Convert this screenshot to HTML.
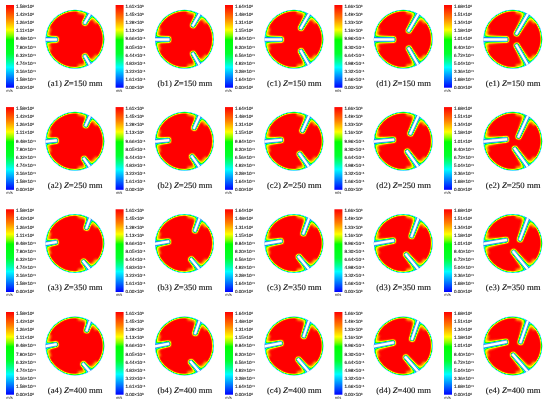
<!DOCTYPE html>
<html><head><meta charset="utf-8"><title>Velocity contours</title>
<style>
html,body{margin:0;padding:0;background:#fff;}
svg{display:block;text-rendering:geometricPrecision}
.t{font-family:"Liberation Sans",sans-serif;font-size:4.6px;fill:#262626;stroke:#262626;stroke-width:0.12px}
.u{font-family:"Liberation Sans",sans-serif;font-size:4px;fill:#222}
.c{font-family:"Liberation Serif",serif;font-size:8.4px;fill:#111;stroke:#111;stroke-width:0.12}
</style></head><body>
<svg width="550" height="403" viewBox="0 0 550 403">
<defs>
<linearGradient id="cb" x1="0" y1="0" x2="0" y2="1">
<stop offset="0" stop-color="#ff0000"/>
<stop offset="0.166" stop-color="#ff8000"/>
<stop offset="0.30" stop-color="#ffff00"/>
<stop offset="0.37" stop-color="#80ff00"/>
<stop offset="0.42" stop-color="#00ff00"/>
<stop offset="0.59" stop-color="#00ff30"/>
<stop offset="0.686" stop-color="#00ffa0"/>
<stop offset="0.753" stop-color="#00ffff"/>
<stop offset="0.875" stop-color="#0080ff"/>
<stop offset="1" stop-color="#0000ff"/>
</linearGradient>
<filter id="tb" x="-5%" y="-5%" width="110%" height="110%"><feGaussianBlur stdDeviation="0.22"/></filter>
<filter id="cfd" x="0" y="0" width="1" height="1" color-interpolation-filters="sRGB">
<feGaussianBlur in="SourceGraphic" stdDeviation="0.8" result="b1"/>
<feColorMatrix in="b1" type="matrix" values="1 0 0 0 0 1 0 0 0 0 1 0 0 0 0 0 0 0 0 1" result="c1"/>
<feGaussianBlur in="SourceGraphic" stdDeviation="1.3" result="b2"/>
<feColorMatrix in="b2" type="matrix" values="0 1 0 0 0 0 1 0 0 0 0 1 0 0 0 0 0 0 0 1" result="c2"/>
<feComposite in="c1" in2="c2" operator="arithmetic" k1="1" k2="0" k3="0" k4="0"/>
<feComponentTransfer>
<feFuncR type="table" tableValues="0 0 0 0 0 0 0 0 0 0 0 0 0 0 0 0 0 0 0 0 0 0 0 0 0 0 0 0 0 0 0 0 0 0 0 0 0 0 0 0 0 0 0 0 0 0 0 0 0 0 0 0 0 0 0 0 0 0 0 0 0 0 0 0 0 0 0 0 0 0 0 0 0 0 0 0 0 0 0 0 0 0 0 0 0 0 0 0 0 0 0 0.006 0.06 0.114 0.167 0.221 0.275 0.328 0.382 0.435 0.489 0.543 0.593 0.644 0.694 0.744 0.795 0.845 0.895 0.946 0.996 1 1 1 1 1 1 1 1 1 1 1 1 1 1 1 1 1 1"/>
<feFuncG type="table" tableValues="0.667 0.667 0.667 0.667 0.667 0.667 0.667 0.667 0.667 0.667 0.667 0.667 0.667 0.667 0.667 0.667 0.667 0.667 0.667 0.667 0.667 0.667 0.667 0.667 0.667 0.667 0.667 0.667 0.667 0.667 0.667 0.667 0.667 0.667 0.667 0.667 0.667 0.667 0.667 0.667 0.667 0.667 0.667 0.667 0.667 0.667 0.667 0.667 0.667 0.667 0.667 0.667 0.667 0.667 0.667 0.667 0.667 0.667 0.667 0.667 0.667 0.667 0.667 0.667 0.667 0.701 0.736 0.77 0.805 0.839 0.865 0.889 0.914 0.938 0.963 0.987 1 1 1 1 1 1 1 1 1 1 1 1 1 1 1 1 1 1 1 1 1 1 1 1 1 1 1 1 1 1 1 1 1 1 1 0.95 0.896 0.842 0.788 0.733 0.679 0.625 0.571 0.512 0.451 0.39 0.328 0.267 0.206 0.147 0.098 0.049 0"/>
<feFuncB type="table" tableValues="1 1 1 1 1 1 1 1 1 1 1 1 1 1 1 1 1 1 1 1 1 1 1 1 1 1 1 1 1 1 1 1 1 1 1 1 1 1 1 1 1 1 1 1 1 1 1 1 1 1 1 1 1 1 1 1 1 1 1 1 1 1 1 1 1 1 1 1 1 1 1 1 1 1 1 1 0.967 0.898 0.829 0.76 0.691 0.622 0.553 0.484 0.422 0.36 0.299 0.238 0.176 0.115 0.054 0 0 0 0 0 0 0 0 0 0 0 0 0 0 0 0 0 0 0 0 0 0 0 0 0 0 0 0 0 0 0 0 0 0 0 0 0 0"/>
<feFuncA type="linear" slope="0" intercept="1"/>
</feComponentTransfer>
<feGaussianBlur stdDeviation="0.3"/>
</filter>

<clipPath id="k00"><circle cx="74.95" cy="39.15" r="29.5"/></clipPath>
<clipPath id="k01"><circle cx="184.5" cy="39.15" r="29.5"/></clipPath>
<clipPath id="k02"><circle cx="294.0" cy="39.15" r="29.5"/></clipPath>
<clipPath id="k03"><circle cx="403.3" cy="39.15" r="29.5"/></clipPath>
<clipPath id="k04"><circle cx="512.85" cy="39.15" r="29.5"/></clipPath>
<clipPath id="k10"><circle cx="74.95" cy="141.15" r="29.5"/></clipPath>
<clipPath id="k11"><circle cx="184.5" cy="141.15" r="29.5"/></clipPath>
<clipPath id="k12"><circle cx="294.0" cy="141.15" r="29.5"/></clipPath>
<clipPath id="k13"><circle cx="403.3" cy="141.15" r="29.5"/></clipPath>
<clipPath id="k14"><circle cx="512.85" cy="141.15" r="29.5"/></clipPath>
<clipPath id="k20"><circle cx="74.95" cy="243.40" r="29.5"/></clipPath>
<clipPath id="k21"><circle cx="184.5" cy="243.40" r="29.5"/></clipPath>
<clipPath id="k22"><circle cx="294.0" cy="243.40" r="29.5"/></clipPath>
<clipPath id="k23"><circle cx="403.3" cy="243.40" r="29.5"/></clipPath>
<clipPath id="k24"><circle cx="512.85" cy="243.40" r="29.5"/></clipPath>
<clipPath id="k30"><circle cx="74.95" cy="345.90" r="29.5"/></clipPath>
<clipPath id="k31"><circle cx="184.5" cy="345.90" r="29.5"/></clipPath>
<clipPath id="k32"><circle cx="294.0" cy="345.90" r="29.5"/></clipPath>
<clipPath id="k33"><circle cx="403.3" cy="345.90" r="29.5"/></clipPath>
<clipPath id="k34"><circle cx="512.85" cy="345.90" r="29.5"/></clipPath>
</defs>
<rect width="550" height="403" fill="#fff"/>
<g>
<rect x="6.0" y="5.0" width="8" height="82.7" fill="url(#cb)"/>
<g filter="url(#tb)">
<text class="t" x="16.0" y="8.05" textLength="18.0" lengthAdjust="spacing">1.58×10<tspan dy="-1" font-size="3px">0</tspan></text>
<text class="t" x="16.0" y="16.15" textLength="18.0" lengthAdjust="spacing">1.42×10<tspan dy="-1" font-size="3px">0</tspan></text>
<text class="t" x="16.0" y="24.25" textLength="18.0" lengthAdjust="spacing">1.26×10<tspan dy="-1" font-size="3px">0</tspan></text>
<text class="t" x="16.0" y="32.35" textLength="18.0" lengthAdjust="spacing">1.11×10<tspan dy="-1" font-size="3px">0</tspan></text>
<text class="t" x="16.0" y="40.45" textLength="19.9" lengthAdjust="spacing">9.48×10<tspan dy="-1" font-size="3px">−1</tspan></text>
<text class="t" x="16.0" y="48.55" textLength="19.9" lengthAdjust="spacing">7.90×10<tspan dy="-1" font-size="3px">−1</tspan></text>
<text class="t" x="16.0" y="56.65" textLength="19.9" lengthAdjust="spacing">6.32×10<tspan dy="-1" font-size="3px">−1</tspan></text>
<text class="t" x="16.0" y="64.75" textLength="19.9" lengthAdjust="spacing">4.74×10<tspan dy="-1" font-size="3px">−1</tspan></text>
<text class="t" x="16.0" y="72.85" textLength="19.9" lengthAdjust="spacing">3.16×10<tspan dy="-1" font-size="3px">−1</tspan></text>
<text class="t" x="16.0" y="80.95" textLength="19.9" lengthAdjust="spacing">1.58×10<tspan dy="-1" font-size="3px">−1</tspan></text>
<text class="t" x="16.0" y="89.05" textLength="18.0" lengthAdjust="spacing">0.00×10<tspan dy="-1" font-size="3px">0</tspan></text>
<text class="u" x="6.3" y="92.10">m/s</text>
</g>
<g clip-path="url(#k00)"><g filter="url(#cfd)"><rect x="40.95" y="5.15" width="68" height="68" fill="#0f0"/><circle cx="74.95" cy="39.15" r="29.5" fill="#ff0"/><path d="M50.10 50.21A27.2 27.2 0 0 1 50.10 28.09M77.79 12.10A27.2 27.2 0 0 1 96.96 23.16M96.96 55.14A27.2 27.2 0 0 1 77.79 66.20" fill="none" stroke="#f00" stroke-opacity="0.1" stroke-width="3.0"/><path d="M43.75 43.85L46.25 43.85L57.65 41.45L57.65 37.65L46.25 35.25L43.75 35.25ZM87.41 10.20L86.16 12.36L82.53 23.43L85.57 25.18L93.34 16.51L94.59 14.35ZM94.59 64.75L93.34 62.59L85.57 53.92L82.53 55.67L86.16 66.74L87.41 68.90Z" fill="#f00" fill-opacity="0.12"/><path d="M39.75 41.25L57.35 41.25L57.35 37.85L39.75 37.85ZM91.66 8.03L82.86 23.27L85.54 24.82L94.34 9.58ZM94.34 69.52L85.54 54.28L82.86 55.83L91.66 71.07Z" fill="#f00"/></g><path d="M39.75 41.20L57.40 41.20L57.40 37.90L39.75 37.90ZM91.70 8.06L82.88 23.34L85.47 24.84L94.30 9.56ZM94.30 69.54L85.47 54.26L82.88 55.76L91.70 71.04Z" fill="#fff" stroke="#0f62cc" stroke-width="0.5"/></g>
<text class="c" x="75.2" y="85.90" text-anchor="middle" textLength="54.7" lengthAdjust="spacingAndGlyphs">(a1) <tspan font-style="italic">Z</tspan>=150 mm</text>
</g>
<g>
<rect x="115.6" y="5.0" width="8" height="82.7" fill="url(#cb)"/>
<g filter="url(#tb)">
<text class="t" x="125.6" y="8.05" textLength="18.0" lengthAdjust="spacing">1.61×10<tspan dy="-1" font-size="3px">0</tspan></text>
<text class="t" x="125.6" y="16.15" textLength="18.0" lengthAdjust="spacing">1.45×10<tspan dy="-1" font-size="3px">0</tspan></text>
<text class="t" x="125.6" y="24.25" textLength="18.0" lengthAdjust="spacing">1.29×10<tspan dy="-1" font-size="3px">0</tspan></text>
<text class="t" x="125.6" y="32.35" textLength="18.0" lengthAdjust="spacing">1.13×10<tspan dy="-1" font-size="3px">0</tspan></text>
<text class="t" x="125.6" y="40.45" textLength="19.9" lengthAdjust="spacing">9.66×10<tspan dy="-1" font-size="3px">−1</tspan></text>
<text class="t" x="125.6" y="48.55" textLength="19.9" lengthAdjust="spacing">8.05×10<tspan dy="-1" font-size="3px">−1</tspan></text>
<text class="t" x="125.6" y="56.65" textLength="19.9" lengthAdjust="spacing">6.44×10<tspan dy="-1" font-size="3px">−1</tspan></text>
<text class="t" x="125.6" y="64.75" textLength="19.9" lengthAdjust="spacing">4.83×10<tspan dy="-1" font-size="3px">−1</tspan></text>
<text class="t" x="125.6" y="72.85" textLength="19.9" lengthAdjust="spacing">3.22×10<tspan dy="-1" font-size="3px">−1</tspan></text>
<text class="t" x="125.6" y="80.95" textLength="19.9" lengthAdjust="spacing">1.61×10<tspan dy="-1" font-size="3px">−1</tspan></text>
<text class="t" x="125.6" y="89.05" textLength="18.0" lengthAdjust="spacing">0.00×10<tspan dy="-1" font-size="3px">0</tspan></text>
<text class="u" x="115.9" y="92.10">m/s</text>
</g>
<g clip-path="url(#k01)"><g filter="url(#cfd)"><rect x="150.50" y="5.15" width="68" height="68" fill="#0f0"/><circle cx="184.5" cy="39.15" r="29.5" fill="#ff0"/><path d="M159.65 50.21A27.2 27.2 0 0 1 159.65 28.09M187.34 12.10A27.2 27.2 0 0 1 206.51 23.16M206.51 55.14A27.2 27.2 0 0 1 187.34 66.20" fill="none" stroke="#f00" stroke-opacity="0.1" stroke-width="3.0"/><path d="M153.30 44.10L155.80 44.10L170.10 41.45L170.10 37.65L155.80 35.00L153.30 35.00ZM196.74 10.07L195.49 12.24L190.63 25.94L193.67 27.69L203.11 16.64L204.36 14.47ZM204.36 64.63L203.11 62.46L193.67 51.41L190.63 53.16L195.49 66.86L196.74 69.03Z" fill="#f00" fill-opacity="0.12"/><path d="M149.30 41.25L169.80 41.25L169.80 37.85L149.30 37.85ZM201.21 8.03L190.96 25.78L193.64 27.33L203.89 9.58ZM203.89 69.52L193.64 51.77L190.96 53.32L201.21 71.07Z" fill="#f00"/></g><path d="M149.30 41.20L169.85 41.20L169.85 37.90L149.30 37.90ZM201.25 8.06L190.98 25.85L193.57 27.35L203.85 9.56ZM203.85 69.54L193.57 51.75L190.98 53.25L201.25 71.04Z" fill="#fff" stroke="#0f62cc" stroke-width="0.5"/></g>
<text class="c" x="184.8" y="85.90" text-anchor="middle" textLength="54.7" lengthAdjust="spacingAndGlyphs">(b1) <tspan font-style="italic">Z</tspan>=150 mm</text>
</g>
<g>
<rect x="225.0" y="5.0" width="8" height="82.7" fill="url(#cb)"/>
<g filter="url(#tb)">
<text class="t" x="235.0" y="8.05" textLength="18.0" lengthAdjust="spacing">1.64×10<tspan dy="-1" font-size="3px">0</tspan></text>
<text class="t" x="235.0" y="16.15" textLength="18.0" lengthAdjust="spacing">1.48×10<tspan dy="-1" font-size="3px">0</tspan></text>
<text class="t" x="235.0" y="24.25" textLength="18.0" lengthAdjust="spacing">1.31×10<tspan dy="-1" font-size="3px">0</tspan></text>
<text class="t" x="235.0" y="32.35" textLength="18.0" lengthAdjust="spacing">1.15×10<tspan dy="-1" font-size="3px">0</tspan></text>
<text class="t" x="235.0" y="40.45" textLength="19.9" lengthAdjust="spacing">9.84×10<tspan dy="-1" font-size="3px">−1</tspan></text>
<text class="t" x="235.0" y="48.55" textLength="19.9" lengthAdjust="spacing">8.20×10<tspan dy="-1" font-size="3px">−1</tspan></text>
<text class="t" x="235.0" y="56.65" textLength="19.9" lengthAdjust="spacing">6.56×10<tspan dy="-1" font-size="3px">−1</tspan></text>
<text class="t" x="235.0" y="64.75" textLength="19.9" lengthAdjust="spacing">4.92×10<tspan dy="-1" font-size="3px">−1</tspan></text>
<text class="t" x="235.0" y="72.85" textLength="19.9" lengthAdjust="spacing">3.28×10<tspan dy="-1" font-size="3px">−1</tspan></text>
<text class="t" x="235.0" y="80.95" textLength="19.9" lengthAdjust="spacing">1.64×10<tspan dy="-1" font-size="3px">−1</tspan></text>
<text class="t" x="235.0" y="89.05" textLength="18.0" lengthAdjust="spacing">0.00×10<tspan dy="-1" font-size="3px">0</tspan></text>
<text class="u" x="225.3" y="92.10">m/s</text>
</g>
<g clip-path="url(#k02)"><g filter="url(#cfd)"><rect x="260.00" y="5.15" width="68" height="68" fill="#0f0"/><circle cx="294.0" cy="39.15" r="29.5" fill="#ff0"/><path d="M269.15 50.21A27.2 27.2 0 0 1 269.15 28.09M296.84 12.10A27.2 27.2 0 0 1 316.01 23.16M316.01 55.14A27.2 27.2 0 0 1 296.84 66.20" fill="none" stroke="#f00" stroke-opacity="0.1" stroke-width="3.0"/><path d="M262.80 44.35L265.30 44.35L282.70 41.45L282.70 37.65L265.30 34.75L262.80 34.75ZM306.02 9.95L304.77 12.11L298.58 28.63L301.62 30.38L312.83 16.76L314.08 14.60ZM314.08 64.50L312.83 62.34L301.62 48.72L298.58 50.47L304.77 66.99L306.02 69.15Z" fill="#f00" fill-opacity="0.12"/><path d="M258.80 41.25L282.40 41.25L282.40 37.85L258.80 37.85ZM310.71 8.03L298.91 28.47L301.59 30.02L313.39 9.58ZM313.39 69.52L301.59 49.08L298.91 50.63L310.71 71.07Z" fill="#f00"/></g><path d="M258.80 41.20L282.45 41.20L282.45 37.90L258.80 37.90ZM310.75 8.06L298.93 28.54L301.52 30.04L313.35 9.56ZM313.35 69.54L301.52 49.06L298.93 50.56L310.75 71.04Z" fill="#fff" stroke="#0f62cc" stroke-width="0.5"/></g>
<text class="c" x="294.3" y="85.90" text-anchor="middle" textLength="54.7" lengthAdjust="spacingAndGlyphs">(c1) <tspan font-style="italic">Z</tspan>=150 mm</text>
</g>
<g>
<rect x="334.4" y="5.0" width="8" height="82.7" fill="url(#cb)"/>
<g filter="url(#tb)">
<text class="t" x="344.4" y="8.05" textLength="18.0" lengthAdjust="spacing">1.66×10<tspan dy="-1" font-size="3px">0</tspan></text>
<text class="t" x="344.4" y="16.15" textLength="18.0" lengthAdjust="spacing">1.49×10<tspan dy="-1" font-size="3px">0</tspan></text>
<text class="t" x="344.4" y="24.25" textLength="18.0" lengthAdjust="spacing">1.33×10<tspan dy="-1" font-size="3px">0</tspan></text>
<text class="t" x="344.4" y="32.35" textLength="18.0" lengthAdjust="spacing">1.16×10<tspan dy="-1" font-size="3px">0</tspan></text>
<text class="t" x="344.4" y="40.45" textLength="19.9" lengthAdjust="spacing">9.96×10<tspan dy="-1" font-size="3px">−1</tspan></text>
<text class="t" x="344.4" y="48.55" textLength="19.9" lengthAdjust="spacing">8.30×10<tspan dy="-1" font-size="3px">−1</tspan></text>
<text class="t" x="344.4" y="56.65" textLength="19.9" lengthAdjust="spacing">6.64×10<tspan dy="-1" font-size="3px">−1</tspan></text>
<text class="t" x="344.4" y="64.75" textLength="19.9" lengthAdjust="spacing">4.98×10<tspan dy="-1" font-size="3px">−1</tspan></text>
<text class="t" x="344.4" y="72.85" textLength="19.9" lengthAdjust="spacing">3.32×10<tspan dy="-1" font-size="3px">−1</tspan></text>
<text class="t" x="344.4" y="80.95" textLength="19.9" lengthAdjust="spacing">1.66×10<tspan dy="-1" font-size="3px">−1</tspan></text>
<text class="t" x="344.4" y="89.05" textLength="18.0" lengthAdjust="spacing">0.00×10<tspan dy="-1" font-size="3px">0</tspan></text>
<text class="u" x="334.7" y="92.10">m/s</text>
</g>
<g clip-path="url(#k03)"><g filter="url(#cfd)"><rect x="369.30" y="5.15" width="68" height="68" fill="#0f0"/><circle cx="403.3" cy="39.15" r="29.5" fill="#ff0"/><path d="M378.45 50.21A27.2 27.2 0 0 1 378.45 28.09M406.14 12.10A27.2 27.2 0 0 1 425.31 23.16M425.31 55.14A27.2 27.2 0 0 1 406.14 66.20" fill="none" stroke="#f00" stroke-opacity="0.1" stroke-width="3.0"/><path d="M372.10 44.60L374.60 44.60L395.00 41.45L395.00 37.65L374.60 34.50L372.10 34.50ZM415.11 9.82L413.86 11.99L406.38 31.23L409.42 32.98L422.34 16.89L423.59 14.72ZM423.59 64.38L422.34 62.21L409.42 46.12L406.38 47.87L413.86 67.11L415.11 69.28Z" fill="#f00" fill-opacity="0.12"/><path d="M368.10 41.25L394.70 41.25L394.70 37.85L368.10 37.85ZM420.01 8.03L406.71 31.07L409.39 32.62L422.69 9.58ZM422.69 69.52L409.39 46.48L406.71 48.03L420.01 71.07Z" fill="#f00"/></g><path d="M368.10 41.20L394.75 41.20L394.75 37.90L368.10 37.90ZM420.05 8.06L406.73 31.14L409.32 32.64L422.65 9.56ZM422.65 69.54L409.32 46.46L406.73 47.96L420.05 71.04Z" fill="#fff" stroke="#0f62cc" stroke-width="0.5"/></g>
<text class="c" x="403.6" y="85.90" text-anchor="middle" textLength="54.7" lengthAdjust="spacingAndGlyphs">(d1) <tspan font-style="italic">Z</tspan>=150 mm</text>
</g>
<g>
<rect x="444.0" y="5.0" width="8" height="82.7" fill="url(#cb)"/>
<g filter="url(#tb)">
<text class="t" x="454.0" y="8.05" textLength="18.0" lengthAdjust="spacing">1.68×10<tspan dy="-1" font-size="3px">0</tspan></text>
<text class="t" x="454.0" y="16.15" textLength="18.0" lengthAdjust="spacing">1.51×10<tspan dy="-1" font-size="3px">0</tspan></text>
<text class="t" x="454.0" y="24.25" textLength="18.0" lengthAdjust="spacing">1.34×10<tspan dy="-1" font-size="3px">0</tspan></text>
<text class="t" x="454.0" y="32.35" textLength="18.0" lengthAdjust="spacing">1.18×10<tspan dy="-1" font-size="3px">0</tspan></text>
<text class="t" x="454.0" y="40.45" textLength="18.0" lengthAdjust="spacing">1.01×10<tspan dy="-1" font-size="3px">0</tspan></text>
<text class="t" x="454.0" y="48.55" textLength="19.9" lengthAdjust="spacing">8.40×10<tspan dy="-1" font-size="3px">−1</tspan></text>
<text class="t" x="454.0" y="56.65" textLength="19.9" lengthAdjust="spacing">6.72×10<tspan dy="-1" font-size="3px">−1</tspan></text>
<text class="t" x="454.0" y="64.75" textLength="19.9" lengthAdjust="spacing">5.04×10<tspan dy="-1" font-size="3px">−1</tspan></text>
<text class="t" x="454.0" y="72.85" textLength="19.9" lengthAdjust="spacing">3.36×10<tspan dy="-1" font-size="3px">−1</tspan></text>
<text class="t" x="454.0" y="80.95" textLength="19.9" lengthAdjust="spacing">1.68×10<tspan dy="-1" font-size="3px">−1</tspan></text>
<text class="t" x="454.0" y="89.05" textLength="18.0" lengthAdjust="spacing">0.00×10<tspan dy="-1" font-size="3px">0</tspan></text>
<text class="u" x="444.3" y="92.10">m/s</text>
</g>
<g clip-path="url(#k04)"><g filter="url(#cfd)"><rect x="478.85" y="5.15" width="68" height="68" fill="#0f0"/><circle cx="512.85" cy="39.15" r="29.5" fill="#ff0"/><path d="M488.00 50.21A27.2 27.2 0 0 1 488.00 28.09M515.69 12.10A27.2 27.2 0 0 1 534.86 23.16M534.86 55.14A27.2 27.2 0 0 1 515.69 66.20" fill="none" stroke="#f00" stroke-opacity="0.1" stroke-width="3.0"/><path d="M481.65 44.85L484.15 44.85L507.95 41.45L507.95 37.65L484.15 34.25L481.65 34.25ZM524.44 9.70L523.19 11.86L514.23 34.17L517.27 35.92L532.11 17.01L533.36 14.85ZM533.36 64.25L532.11 62.09L517.27 43.18L514.23 44.93L523.19 67.24L524.44 69.40Z" fill="#f00" fill-opacity="0.12"/><path d="M477.65 41.25L507.65 41.25L507.65 37.85L477.65 37.85ZM529.56 8.03L514.56 34.01L517.24 35.56L532.24 9.58ZM532.24 69.52L517.24 43.54L514.56 45.09L529.56 71.07Z" fill="#f00"/></g><path d="M477.65 41.20L507.70 41.20L507.70 37.90L477.65 37.90ZM529.60 8.06L514.58 34.08L517.17 35.58L532.20 9.56ZM532.20 69.54L517.17 43.52L514.58 45.02L529.60 71.04Z" fill="#fff" stroke="#0f62cc" stroke-width="0.5"/></g>
<text class="c" x="513.1" y="85.90" text-anchor="middle" textLength="54.7" lengthAdjust="spacingAndGlyphs">(e1) <tspan font-style="italic">Z</tspan>=150 mm</text>
</g>
<g>
<rect x="6.0" y="107.1" width="8" height="82.7" fill="url(#cb)"/>
<g filter="url(#tb)">
<text class="t" x="16.0" y="110.15" textLength="18.0" lengthAdjust="spacing">1.58×10<tspan dy="-1" font-size="3px">0</tspan></text>
<text class="t" x="16.0" y="118.25" textLength="18.0" lengthAdjust="spacing">1.42×10<tspan dy="-1" font-size="3px">0</tspan></text>
<text class="t" x="16.0" y="126.35" textLength="18.0" lengthAdjust="spacing">1.26×10<tspan dy="-1" font-size="3px">0</tspan></text>
<text class="t" x="16.0" y="134.45" textLength="18.0" lengthAdjust="spacing">1.11×10<tspan dy="-1" font-size="3px">0</tspan></text>
<text class="t" x="16.0" y="142.55" textLength="19.9" lengthAdjust="spacing">9.48×10<tspan dy="-1" font-size="3px">−1</tspan></text>
<text class="t" x="16.0" y="150.65" textLength="19.9" lengthAdjust="spacing">7.90×10<tspan dy="-1" font-size="3px">−1</tspan></text>
<text class="t" x="16.0" y="158.75" textLength="19.9" lengthAdjust="spacing">6.32×10<tspan dy="-1" font-size="3px">−1</tspan></text>
<text class="t" x="16.0" y="166.85" textLength="19.9" lengthAdjust="spacing">4.74×10<tspan dy="-1" font-size="3px">−1</tspan></text>
<text class="t" x="16.0" y="174.95" textLength="19.9" lengthAdjust="spacing">3.16×10<tspan dy="-1" font-size="3px">−1</tspan></text>
<text class="t" x="16.0" y="183.05" textLength="19.9" lengthAdjust="spacing">1.58×10<tspan dy="-1" font-size="3px">−1</tspan></text>
<text class="t" x="16.0" y="191.15" textLength="18.0" lengthAdjust="spacing">0.00×10<tspan dy="-1" font-size="3px">0</tspan></text>
<text class="u" x="6.3" y="194.20">m/s</text>
</g>
<g clip-path="url(#k10)"><g filter="url(#cfd)"><rect x="40.95" y="107.15" width="68" height="68" fill="#0f0"/><circle cx="74.95" cy="141.15" r="29.5" fill="#ff0"/><path d="M50.10 152.21A27.2 27.2 0 0 1 50.10 130.09M77.79 114.10A27.2 27.2 0 0 1 96.96 125.16M96.96 157.14A27.2 27.2 0 0 1 77.79 168.20" fill="none" stroke="#f00" stroke-opacity="0.1" stroke-width="3.0"/><path d="M44.17 146.02L46.66 145.78L57.78 142.30L57.41 138.52L45.84 137.22L43.35 137.46ZM87.05 112.46L86.02 114.74L83.47 126.11L86.66 127.56L93.57 118.18L94.61 115.90ZM94.54 166.32L93.09 164.28L84.51 156.39L81.66 158.43L86.33 169.10L87.78 171.14Z" fill="#f00" fill-opacity="0.12"/><path d="M39.94 143.82L57.46 142.13L57.13 138.75L39.61 140.43ZM91.08 109.90L83.78 125.92L86.60 127.20L93.90 111.19ZM94.75 171.08L84.53 156.75L82.00 158.55L92.22 172.88Z" fill="#f00"/></g><path d="M39.94 143.77L57.50 142.08L57.19 138.79L39.62 140.48ZM91.12 109.92L83.80 125.98L86.53 127.23L93.85 111.16ZM94.71 171.11L84.46 156.74L82.01 158.48L92.26 172.85Z" fill="#fff" stroke="#0f62cc" stroke-width="0.5"/></g>
<text class="c" x="75.2" y="188.00" text-anchor="middle" textLength="54.7" lengthAdjust="spacingAndGlyphs">(a2) <tspan font-style="italic">Z</tspan>=250 mm</text>
</g>
<g>
<rect x="115.6" y="107.1" width="8" height="82.7" fill="url(#cb)"/>
<g filter="url(#tb)">
<text class="t" x="125.6" y="110.15" textLength="18.0" lengthAdjust="spacing">1.61×10<tspan dy="-1" font-size="3px">0</tspan></text>
<text class="t" x="125.6" y="118.25" textLength="18.0" lengthAdjust="spacing">1.45×10<tspan dy="-1" font-size="3px">0</tspan></text>
<text class="t" x="125.6" y="126.35" textLength="18.0" lengthAdjust="spacing">1.29×10<tspan dy="-1" font-size="3px">0</tspan></text>
<text class="t" x="125.6" y="134.45" textLength="18.0" lengthAdjust="spacing">1.13×10<tspan dy="-1" font-size="3px">0</tspan></text>
<text class="t" x="125.6" y="142.55" textLength="19.9" lengthAdjust="spacing">9.66×10<tspan dy="-1" font-size="3px">−1</tspan></text>
<text class="t" x="125.6" y="150.65" textLength="19.9" lengthAdjust="spacing">8.05×10<tspan dy="-1" font-size="3px">−1</tspan></text>
<text class="t" x="125.6" y="158.75" textLength="19.9" lengthAdjust="spacing">6.44×10<tspan dy="-1" font-size="3px">−1</tspan></text>
<text class="t" x="125.6" y="166.85" textLength="19.9" lengthAdjust="spacing">4.83×10<tspan dy="-1" font-size="3px">−1</tspan></text>
<text class="t" x="125.6" y="174.95" textLength="19.9" lengthAdjust="spacing">3.22×10<tspan dy="-1" font-size="3px">−1</tspan></text>
<text class="t" x="125.6" y="183.05" textLength="19.9" lengthAdjust="spacing">1.61×10<tspan dy="-1" font-size="3px">−1</tspan></text>
<text class="t" x="125.6" y="191.15" textLength="18.0" lengthAdjust="spacing">0.00×10<tspan dy="-1" font-size="3px">0</tspan></text>
<text class="u" x="115.9" y="194.20">m/s</text>
</g>
<g clip-path="url(#k11)"><g filter="url(#cfd)"><rect x="150.50" y="107.15" width="68" height="68" fill="#0f0"/><circle cx="184.5" cy="141.15" r="29.5" fill="#ff0"/><path d="M159.65 152.21A27.2 27.2 0 0 1 159.65 130.09M187.34 114.10A27.2 27.2 0 0 1 206.51 125.16M206.51 157.14A27.2 27.2 0 0 1 187.34 168.20" fill="none" stroke="#f00" stroke-opacity="0.1" stroke-width="3.0"/><path d="M153.75 146.27L156.23 146.03L170.21 142.02L169.85 138.24L155.36 136.97L152.87 137.21ZM196.38 112.36L195.34 114.63L191.82 128.74L195.00 130.20L203.35 118.28L204.38 116.01ZM204.29 166.17L202.84 164.14L192.38 154.03L189.53 156.07L195.68 169.25L197.13 171.28Z" fill="#f00" fill-opacity="0.12"/><path d="M149.49 143.82L169.90 141.85L169.57 138.47L149.16 140.43ZM200.63 109.90L192.13 128.55L194.95 129.84L203.45 111.19ZM204.30 171.08L192.39 154.39L189.87 156.19L201.77 172.88Z" fill="#f00"/></g><path d="M149.49 143.77L169.94 141.80L169.62 138.51L149.17 140.48ZM200.67 109.92L192.15 128.62L194.88 129.86L203.40 111.16ZM204.26 171.11L192.32 154.38L189.88 156.12L201.81 172.85Z" fill="#fff" stroke="#0f62cc" stroke-width="0.5"/></g>
<text class="c" x="184.8" y="188.00" text-anchor="middle" textLength="54.7" lengthAdjust="spacingAndGlyphs">(b2) <tspan font-style="italic">Z</tspan>=250 mm</text>
</g>
<g>
<rect x="225.0" y="107.1" width="8" height="82.7" fill="url(#cb)"/>
<g filter="url(#tb)">
<text class="t" x="235.0" y="110.15" textLength="18.0" lengthAdjust="spacing">1.64×10<tspan dy="-1" font-size="3px">0</tspan></text>
<text class="t" x="235.0" y="118.25" textLength="18.0" lengthAdjust="spacing">1.48×10<tspan dy="-1" font-size="3px">0</tspan></text>
<text class="t" x="235.0" y="126.35" textLength="18.0" lengthAdjust="spacing">1.31×10<tspan dy="-1" font-size="3px">0</tspan></text>
<text class="t" x="235.0" y="134.45" textLength="18.0" lengthAdjust="spacing">1.15×10<tspan dy="-1" font-size="3px">0</tspan></text>
<text class="t" x="235.0" y="142.55" textLength="19.9" lengthAdjust="spacing">9.84×10<tspan dy="-1" font-size="3px">−1</tspan></text>
<text class="t" x="235.0" y="150.65" textLength="19.9" lengthAdjust="spacing">8.20×10<tspan dy="-1" font-size="3px">−1</tspan></text>
<text class="t" x="235.0" y="158.75" textLength="19.9" lengthAdjust="spacing">6.56×10<tspan dy="-1" font-size="3px">−1</tspan></text>
<text class="t" x="235.0" y="166.85" textLength="19.9" lengthAdjust="spacing">4.92×10<tspan dy="-1" font-size="3px">−1</tspan></text>
<text class="t" x="235.0" y="174.95" textLength="19.9" lengthAdjust="spacing">3.28×10<tspan dy="-1" font-size="3px">−1</tspan></text>
<text class="t" x="235.0" y="183.05" textLength="19.9" lengthAdjust="spacing">1.64×10<tspan dy="-1" font-size="3px">−1</tspan></text>
<text class="t" x="235.0" y="191.15" textLength="18.0" lengthAdjust="spacing">0.00×10<tspan dy="-1" font-size="3px">0</tspan></text>
<text class="u" x="225.3" y="194.20">m/s</text>
</g>
<g clip-path="url(#k12)"><g filter="url(#cfd)"><rect x="260.00" y="107.15" width="68" height="68" fill="#0f0"/><circle cx="294.0" cy="141.15" r="29.5" fill="#ff0"/><path d="M269.15 152.21A27.2 27.2 0 0 1 269.15 130.09M296.84 114.10A27.2 27.2 0 0 1 316.01 125.16M316.01 157.14A27.2 27.2 0 0 1 296.84 168.20" fill="none" stroke="#f00" stroke-opacity="0.1" stroke-width="3.0"/><path d="M263.27 146.52L265.76 146.28L282.80 141.73L282.44 137.94L264.84 136.72L262.35 136.96ZM305.65 112.25L304.61 114.53L300.03 131.56L303.22 133.02L313.07 118.39L314.11 116.11ZM314.00 166.03L312.55 163.99L300.08 151.51L297.23 153.54L304.97 169.39L306.43 171.43Z" fill="#f00" fill-opacity="0.12"/><path d="M258.99 143.82L282.48 141.56L282.16 138.17L258.66 140.43ZM310.13 109.90L300.34 131.37L303.16 132.66L312.95 111.19ZM313.80 171.08L300.09 151.87L297.57 153.67L311.27 172.88Z" fill="#f00"/></g><path d="M258.99 143.77L282.53 141.50L282.21 138.22L258.67 140.48ZM310.17 109.92L300.37 131.44L303.10 132.69L312.90 111.16ZM313.76 171.11L300.02 151.86L297.58 153.60L311.31 172.85Z" fill="#fff" stroke="#0f62cc" stroke-width="0.5"/></g>
<text class="c" x="294.3" y="188.00" text-anchor="middle" textLength="54.7" lengthAdjust="spacingAndGlyphs">(c2) <tspan font-style="italic">Z</tspan>=250 mm</text>
</g>
<g>
<rect x="334.4" y="107.1" width="8" height="82.7" fill="url(#cb)"/>
<g filter="url(#tb)">
<text class="t" x="344.4" y="110.15" textLength="18.0" lengthAdjust="spacing">1.66×10<tspan dy="-1" font-size="3px">0</tspan></text>
<text class="t" x="344.4" y="118.25" textLength="18.0" lengthAdjust="spacing">1.49×10<tspan dy="-1" font-size="3px">0</tspan></text>
<text class="t" x="344.4" y="126.35" textLength="18.0" lengthAdjust="spacing">1.33×10<tspan dy="-1" font-size="3px">0</tspan></text>
<text class="t" x="344.4" y="134.45" textLength="18.0" lengthAdjust="spacing">1.16×10<tspan dy="-1" font-size="3px">0</tspan></text>
<text class="t" x="344.4" y="142.55" textLength="19.9" lengthAdjust="spacing">9.96×10<tspan dy="-1" font-size="3px">−1</tspan></text>
<text class="t" x="344.4" y="150.65" textLength="19.9" lengthAdjust="spacing">8.30×10<tspan dy="-1" font-size="3px">−1</tspan></text>
<text class="t" x="344.4" y="158.75" textLength="19.9" lengthAdjust="spacing">6.64×10<tspan dy="-1" font-size="3px">−1</tspan></text>
<text class="t" x="344.4" y="166.85" textLength="19.9" lengthAdjust="spacing">4.98×10<tspan dy="-1" font-size="3px">−1</tspan></text>
<text class="t" x="344.4" y="174.95" textLength="19.9" lengthAdjust="spacing">3.32×10<tspan dy="-1" font-size="3px">−1</tspan></text>
<text class="t" x="344.4" y="183.05" textLength="19.9" lengthAdjust="spacing">1.66×10<tspan dy="-1" font-size="3px">−1</tspan></text>
<text class="t" x="344.4" y="191.15" textLength="18.0" lengthAdjust="spacing">0.00×10<tspan dy="-1" font-size="3px">0</tspan></text>
<text class="u" x="334.7" y="194.20">m/s</text>
</g>
<g clip-path="url(#k13)"><g filter="url(#cfd)"><rect x="369.30" y="107.15" width="68" height="68" fill="#0f0"/><circle cx="403.3" cy="141.15" r="29.5" fill="#ff0"/><path d="M378.45 152.21A27.2 27.2 0 0 1 378.45 130.09M406.14 114.10A27.2 27.2 0 0 1 425.31 125.16M425.31 157.14A27.2 27.2 0 0 1 406.14 168.20" fill="none" stroke="#f00" stroke-opacity="0.1" stroke-width="3.0"/><path d="M372.59 146.77L375.08 146.53L395.09 141.44L394.72 137.66L374.11 136.48L371.63 136.71ZM414.72 112.15L413.68 114.43L408.09 134.29L411.28 135.75L422.60 118.49L423.64 116.21ZM423.50 165.88L422.05 163.85L407.64 149.07L404.79 151.10L414.07 169.54L415.52 171.57Z" fill="#f00" fill-opacity="0.12"/><path d="M368.29 143.82L394.77 141.27L394.44 137.88L367.96 140.43ZM419.43 109.90L408.40 134.10L411.22 135.39L422.25 111.19ZM423.10 171.08L407.65 149.43L405.13 151.23L420.57 172.88Z" fill="#f00"/></g><path d="M368.29 143.77L394.81 141.21L394.50 137.93L367.97 140.48ZM419.47 109.92L408.42 134.17L411.15 135.41L422.20 111.16ZM423.06 171.11L407.58 149.42L405.14 151.16L420.61 172.85Z" fill="#fff" stroke="#0f62cc" stroke-width="0.5"/></g>
<text class="c" x="403.6" y="188.00" text-anchor="middle" textLength="54.7" lengthAdjust="spacingAndGlyphs">(d2) <tspan font-style="italic">Z</tspan>=250 mm</text>
</g>
<g>
<rect x="444.0" y="107.1" width="8" height="82.7" fill="url(#cb)"/>
<g filter="url(#tb)">
<text class="t" x="454.0" y="110.15" textLength="18.0" lengthAdjust="spacing">1.68×10<tspan dy="-1" font-size="3px">0</tspan></text>
<text class="t" x="454.0" y="118.25" textLength="18.0" lengthAdjust="spacing">1.51×10<tspan dy="-1" font-size="3px">0</tspan></text>
<text class="t" x="454.0" y="126.35" textLength="18.0" lengthAdjust="spacing">1.34×10<tspan dy="-1" font-size="3px">0</tspan></text>
<text class="t" x="454.0" y="134.45" textLength="18.0" lengthAdjust="spacing">1.18×10<tspan dy="-1" font-size="3px">0</tspan></text>
<text class="t" x="454.0" y="142.55" textLength="18.0" lengthAdjust="spacing">1.01×10<tspan dy="-1" font-size="3px">0</tspan></text>
<text class="t" x="454.0" y="150.65" textLength="19.9" lengthAdjust="spacing">8.40×10<tspan dy="-1" font-size="3px">−1</tspan></text>
<text class="t" x="454.0" y="158.75" textLength="19.9" lengthAdjust="spacing">6.72×10<tspan dy="-1" font-size="3px">−1</tspan></text>
<text class="t" x="454.0" y="166.85" textLength="19.9" lengthAdjust="spacing">5.04×10<tspan dy="-1" font-size="3px">−1</tspan></text>
<text class="t" x="454.0" y="174.95" textLength="19.9" lengthAdjust="spacing">3.36×10<tspan dy="-1" font-size="3px">−1</tspan></text>
<text class="t" x="454.0" y="183.05" textLength="19.9" lengthAdjust="spacing">1.68×10<tspan dy="-1" font-size="3px">−1</tspan></text>
<text class="t" x="454.0" y="191.15" textLength="18.0" lengthAdjust="spacing">0.00×10<tspan dy="-1" font-size="3px">0</tspan></text>
<text class="u" x="444.3" y="194.20">m/s</text>
</g>
<g clip-path="url(#k14)"><g filter="url(#cfd)"><rect x="478.85" y="107.15" width="68" height="68" fill="#0f0"/><circle cx="512.85" cy="141.15" r="29.5" fill="#ff0"/><path d="M488.00 152.21A27.2 27.2 0 0 1 488.00 130.09M515.69 114.10A27.2 27.2 0 0 1 534.86 125.16M534.86 157.14A27.2 27.2 0 0 1 515.69 168.20" fill="none" stroke="#f00" stroke-opacity="0.1" stroke-width="3.0"/><path d="M482.17 147.02L484.66 146.78L508.02 141.11L507.66 137.33L483.64 136.23L481.15 136.47ZM524.04 112.05L523.01 114.32L516.23 137.39L519.42 138.84L532.38 118.59L533.42 116.32ZM533.25 165.74L531.80 163.70L515.21 146.30L512.36 148.33L523.42 169.68L524.87 171.72Z" fill="#f00" fill-opacity="0.12"/><path d="M477.84 143.82L507.70 140.94L507.38 137.56L477.51 140.43ZM528.98 109.90L516.54 137.20L519.36 138.48L531.80 111.19ZM532.65 171.08L515.23 146.66L512.70 148.46L530.12 172.88Z" fill="#f00"/></g><path d="M477.84 143.77L507.75 140.89L507.43 137.60L477.52 140.48ZM529.02 109.92L516.56 137.26L519.29 138.51L531.75 111.16ZM532.61 171.11L515.16 146.65L512.71 148.39L530.16 172.85Z" fill="#fff" stroke="#0f62cc" stroke-width="0.5"/></g>
<text class="c" x="513.1" y="188.00" text-anchor="middle" textLength="54.7" lengthAdjust="spacingAndGlyphs">(e2) <tspan font-style="italic">Z</tspan>=250 mm</text>
</g>
<g>
<rect x="6.0" y="209.3" width="8" height="82.7" fill="url(#cb)"/>
<g filter="url(#tb)">
<text class="t" x="16.0" y="212.35" textLength="18.0" lengthAdjust="spacing">1.58×10<tspan dy="-1" font-size="3px">0</tspan></text>
<text class="t" x="16.0" y="220.45" textLength="18.0" lengthAdjust="spacing">1.42×10<tspan dy="-1" font-size="3px">0</tspan></text>
<text class="t" x="16.0" y="228.55" textLength="18.0" lengthAdjust="spacing">1.26×10<tspan dy="-1" font-size="3px">0</tspan></text>
<text class="t" x="16.0" y="236.65" textLength="18.0" lengthAdjust="spacing">1.11×10<tspan dy="-1" font-size="3px">0</tspan></text>
<text class="t" x="16.0" y="244.75" textLength="19.9" lengthAdjust="spacing">9.48×10<tspan dy="-1" font-size="3px">−1</tspan></text>
<text class="t" x="16.0" y="252.85" textLength="19.9" lengthAdjust="spacing">7.90×10<tspan dy="-1" font-size="3px">−1</tspan></text>
<text class="t" x="16.0" y="260.95" textLength="19.9" lengthAdjust="spacing">6.32×10<tspan dy="-1" font-size="3px">−1</tspan></text>
<text class="t" x="16.0" y="269.05" textLength="19.9" lengthAdjust="spacing">4.74×10<tspan dy="-1" font-size="3px">−1</tspan></text>
<text class="t" x="16.0" y="277.15" textLength="19.9" lengthAdjust="spacing">3.16×10<tspan dy="-1" font-size="3px">−1</tspan></text>
<text class="t" x="16.0" y="285.25" textLength="19.9" lengthAdjust="spacing">1.58×10<tspan dy="-1" font-size="3px">−1</tspan></text>
<text class="t" x="16.0" y="293.35" textLength="18.0" lengthAdjust="spacing">0.00×10<tspan dy="-1" font-size="3px">0</tspan></text>
<text class="u" x="6.3" y="296.40">m/s</text>
</g>
<g clip-path="url(#k20)"><g filter="url(#cfd)"><rect x="40.95" y="209.40" width="68" height="68" fill="#0f0"/><circle cx="74.95" cy="243.40" r="29.5" fill="#ff0"/><path d="M50.10 254.46A27.2 27.2 0 0 1 50.10 232.34M77.79 216.35A27.2 27.2 0 0 1 96.96 227.41M96.96 259.39A27.2 27.2 0 0 1 77.79 270.45" fill="none" stroke="#f00" stroke-opacity="0.1" stroke-width="3.0"/><path d="M44.49 248.37L46.95 247.96L57.80 243.71L57.17 239.96L45.53 239.48L43.07 239.89ZM86.81 214.93L85.94 217.27L84.19 228.79L87.47 230.01L93.71 220.17L94.59 217.83ZM94.47 268.25L92.88 266.32L83.78 259.05L81.08 261.28L86.48 271.60L88.07 273.53Z" fill="#f00" fill-opacity="0.12"/><path d="M40.11 246.47L57.47 243.56L56.91 240.21L39.55 243.11ZM90.65 212.09L84.49 228.57L87.39 229.66L93.55 213.18ZM95.01 272.99L83.82 259.41L81.43 261.38L92.62 274.96Z" fill="#f00"/></g><path d="M40.10 246.42L57.51 243.50L56.97 240.25L39.56 243.16ZM90.70 212.11L84.52 228.64L87.33 229.69L93.51 213.16ZM94.97 273.02L83.75 259.40L81.43 261.31L92.66 274.93Z" fill="#fff" stroke="#0f62cc" stroke-width="0.5"/></g>
<text class="c" x="75.2" y="290.20" text-anchor="middle" textLength="54.7" lengthAdjust="spacingAndGlyphs">(a3) <tspan font-style="italic">Z</tspan>=350 mm</text>
</g>
<g>
<rect x="115.6" y="209.3" width="8" height="82.7" fill="url(#cb)"/>
<g filter="url(#tb)">
<text class="t" x="125.6" y="212.35" textLength="18.0" lengthAdjust="spacing">1.61×10<tspan dy="-1" font-size="3px">0</tspan></text>
<text class="t" x="125.6" y="220.45" textLength="18.0" lengthAdjust="spacing">1.45×10<tspan dy="-1" font-size="3px">0</tspan></text>
<text class="t" x="125.6" y="228.55" textLength="18.0" lengthAdjust="spacing">1.29×10<tspan dy="-1" font-size="3px">0</tspan></text>
<text class="t" x="125.6" y="236.65" textLength="18.0" lengthAdjust="spacing">1.13×10<tspan dy="-1" font-size="3px">0</tspan></text>
<text class="t" x="125.6" y="244.75" textLength="19.9" lengthAdjust="spacing">9.66×10<tspan dy="-1" font-size="3px">−1</tspan></text>
<text class="t" x="125.6" y="252.85" textLength="19.9" lengthAdjust="spacing">8.05×10<tspan dy="-1" font-size="3px">−1</tspan></text>
<text class="t" x="125.6" y="260.95" textLength="19.9" lengthAdjust="spacing">6.44×10<tspan dy="-1" font-size="3px">−1</tspan></text>
<text class="t" x="125.6" y="269.05" textLength="19.9" lengthAdjust="spacing">4.83×10<tspan dy="-1" font-size="3px">−1</tspan></text>
<text class="t" x="125.6" y="277.15" textLength="19.9" lengthAdjust="spacing">3.22×10<tspan dy="-1" font-size="3px">−1</tspan></text>
<text class="t" x="125.6" y="285.25" textLength="19.9" lengthAdjust="spacing">1.61×10<tspan dy="-1" font-size="3px">−1</tspan></text>
<text class="t" x="125.6" y="293.35" textLength="18.0" lengthAdjust="spacing">0.00×10<tspan dy="-1" font-size="3px">0</tspan></text>
<text class="u" x="115.9" y="296.40">m/s</text>
</g>
<g clip-path="url(#k21)"><g filter="url(#cfd)"><rect x="150.50" y="209.40" width="68" height="68" fill="#0f0"/><circle cx="184.5" cy="243.40" r="29.5" fill="#ff0"/><path d="M159.65 254.46A27.2 27.2 0 0 1 159.65 232.34M187.34 216.35A27.2 27.2 0 0 1 206.51 227.41M206.51 259.39A27.2 27.2 0 0 1 187.34 270.45" fill="none" stroke="#f00" stroke-opacity="0.1" stroke-width="3.0"/><path d="M154.08 248.62L156.54 248.21L170.21 243.23L169.58 239.48L155.04 239.23L152.58 239.64ZM196.13 214.84L195.25 217.18L192.73 231.50L196.01 232.73L203.50 220.26L204.37 217.92ZM204.22 268.09L202.63 266.16L191.49 256.81L188.79 259.04L195.84 271.76L197.43 273.69Z" fill="#f00" fill-opacity="0.12"/><path d="M149.66 246.47L169.88 243.08L169.32 239.73L149.10 243.11ZM200.20 212.09L193.02 231.29L195.92 232.38L203.10 213.18ZM204.56 272.99L191.52 257.17L189.13 259.15L202.17 274.96Z" fill="#f00"/></g><path d="M149.65 246.42L169.92 243.03L169.38 239.77L149.11 243.16ZM200.25 212.11L193.05 231.36L195.86 232.41L203.06 213.16ZM204.52 273.02L191.45 257.17L189.14 259.07L202.21 274.93Z" fill="#fff" stroke="#0f62cc" stroke-width="0.5"/></g>
<text class="c" x="184.8" y="290.20" text-anchor="middle" textLength="54.7" lengthAdjust="spacingAndGlyphs">(b3) <tspan font-style="italic">Z</tspan>=350 mm</text>
</g>
<g>
<rect x="225.0" y="209.3" width="8" height="82.7" fill="url(#cb)"/>
<g filter="url(#tb)">
<text class="t" x="235.0" y="212.35" textLength="18.0" lengthAdjust="spacing">1.64×10<tspan dy="-1" font-size="3px">0</tspan></text>
<text class="t" x="235.0" y="220.45" textLength="18.0" lengthAdjust="spacing">1.48×10<tspan dy="-1" font-size="3px">0</tspan></text>
<text class="t" x="235.0" y="228.55" textLength="18.0" lengthAdjust="spacing">1.31×10<tspan dy="-1" font-size="3px">0</tspan></text>
<text class="t" x="235.0" y="236.65" textLength="18.0" lengthAdjust="spacing">1.15×10<tspan dy="-1" font-size="3px">0</tspan></text>
<text class="t" x="235.0" y="244.75" textLength="19.9" lengthAdjust="spacing">9.84×10<tspan dy="-1" font-size="3px">−1</tspan></text>
<text class="t" x="235.0" y="252.85" textLength="19.9" lengthAdjust="spacing">8.20×10<tspan dy="-1" font-size="3px">−1</tspan></text>
<text class="t" x="235.0" y="260.95" textLength="19.9" lengthAdjust="spacing">6.56×10<tspan dy="-1" font-size="3px">−1</tspan></text>
<text class="t" x="235.0" y="269.05" textLength="19.9" lengthAdjust="spacing">4.92×10<tspan dy="-1" font-size="3px">−1</tspan></text>
<text class="t" x="235.0" y="277.15" textLength="19.9" lengthAdjust="spacing">3.28×10<tspan dy="-1" font-size="3px">−1</tspan></text>
<text class="t" x="235.0" y="285.25" textLength="19.9" lengthAdjust="spacing">1.64×10<tspan dy="-1" font-size="3px">−1</tspan></text>
<text class="t" x="235.0" y="293.35" textLength="18.0" lengthAdjust="spacing">0.00×10<tspan dy="-1" font-size="3px">0</tspan></text>
<text class="u" x="225.3" y="296.40">m/s</text>
</g>
<g clip-path="url(#k22)"><g filter="url(#cfd)"><rect x="260.00" y="209.40" width="68" height="68" fill="#0f0"/><circle cx="294.0" cy="243.40" r="29.5" fill="#ff0"/><path d="M269.15 254.46A27.2 27.2 0 0 1 269.15 232.34M296.84 216.35A27.2 27.2 0 0 1 316.01 227.41M316.01 259.39A27.2 27.2 0 0 1 296.84 270.45" fill="none" stroke="#f00" stroke-opacity="0.1" stroke-width="3.0"/><path d="M263.62 248.86L266.09 248.45L282.77 242.72L282.14 238.97L264.50 238.98L262.04 239.40ZM305.39 214.75L304.52 217.09L301.14 234.41L304.42 235.63L313.23 220.35L314.11 218.01ZM313.91 267.93L312.32 266.00L299.01 254.42L296.31 256.65L305.14 271.92L306.73 273.85Z" fill="#f00" fill-opacity="0.12"/><path d="M259.16 246.47L282.44 242.57L281.88 239.22L258.60 243.11ZM309.70 212.09L301.43 234.19L304.34 235.28L312.60 213.18ZM314.06 272.99L299.05 254.78L296.66 256.75L311.67 274.96Z" fill="#f00"/></g><path d="M259.15 246.42L282.48 242.51L281.94 239.26L258.61 243.16ZM309.75 212.11L301.46 234.26L304.27 235.31L312.56 213.16ZM314.02 273.02L298.98 254.77L296.67 256.68L311.71 274.93Z" fill="#fff" stroke="#0f62cc" stroke-width="0.5"/></g>
<text class="c" x="294.3" y="290.20" text-anchor="middle" textLength="54.7" lengthAdjust="spacingAndGlyphs">(c3) <tspan font-style="italic">Z</tspan>=350 mm</text>
</g>
<g>
<rect x="334.4" y="209.3" width="8" height="82.7" fill="url(#cb)"/>
<g filter="url(#tb)">
<text class="t" x="344.4" y="212.35" textLength="18.0" lengthAdjust="spacing">1.66×10<tspan dy="-1" font-size="3px">0</tspan></text>
<text class="t" x="344.4" y="220.45" textLength="18.0" lengthAdjust="spacing">1.49×10<tspan dy="-1" font-size="3px">0</tspan></text>
<text class="t" x="344.4" y="228.55" textLength="18.0" lengthAdjust="spacing">1.33×10<tspan dy="-1" font-size="3px">0</tspan></text>
<text class="t" x="344.4" y="236.65" textLength="18.0" lengthAdjust="spacing">1.16×10<tspan dy="-1" font-size="3px">0</tspan></text>
<text class="t" x="344.4" y="244.75" textLength="19.9" lengthAdjust="spacing">9.96×10<tspan dy="-1" font-size="3px">−1</tspan></text>
<text class="t" x="344.4" y="252.85" textLength="19.9" lengthAdjust="spacing">8.30×10<tspan dy="-1" font-size="3px">−1</tspan></text>
<text class="t" x="344.4" y="260.95" textLength="19.9" lengthAdjust="spacing">6.64×10<tspan dy="-1" font-size="3px">−1</tspan></text>
<text class="t" x="344.4" y="269.05" textLength="19.9" lengthAdjust="spacing">4.98×10<tspan dy="-1" font-size="3px">−1</tspan></text>
<text class="t" x="344.4" y="277.15" textLength="19.9" lengthAdjust="spacing">3.32×10<tspan dy="-1" font-size="3px">−1</tspan></text>
<text class="t" x="344.4" y="285.25" textLength="19.9" lengthAdjust="spacing">1.66×10<tspan dy="-1" font-size="3px">−1</tspan></text>
<text class="t" x="344.4" y="293.35" textLength="18.0" lengthAdjust="spacing">0.00×10<tspan dy="-1" font-size="3px">0</tspan></text>
<text class="u" x="334.7" y="296.40">m/s</text>
</g>
<g clip-path="url(#k23)"><g filter="url(#cfd)"><rect x="369.30" y="209.40" width="68" height="68" fill="#0f0"/><circle cx="403.3" cy="243.40" r="29.5" fill="#ff0"/><path d="M378.45 254.46A27.2 27.2 0 0 1 378.45 232.34M406.14 216.35A27.2 27.2 0 0 1 425.31 227.41M425.31 259.39A27.2 27.2 0 0 1 406.14 270.45" fill="none" stroke="#f00" stroke-opacity="0.1" stroke-width="3.0"/><path d="M372.96 249.11L375.43 248.70L395.03 242.22L394.40 238.48L373.76 238.74L371.29 239.15ZM414.46 214.66L413.59 217.00L409.39 237.22L412.67 238.44L422.76 220.44L423.64 218.09ZM423.40 267.77L421.81 265.85L406.41 252.11L403.71 254.33L414.25 272.08L415.84 274.01Z" fill="#f00" fill-opacity="0.12"/><path d="M368.46 246.47L394.70 242.08L394.14 238.72L367.90 243.11ZM419.00 212.09L409.68 237.00L412.59 238.09L421.90 213.18ZM423.36 272.99L406.44 252.47L404.05 254.44L420.97 274.96Z" fill="#f00"/></g><path d="M368.45 246.42L394.74 242.02L394.19 238.76L367.91 243.16ZM419.05 212.11L409.71 237.07L412.52 238.12L421.86 213.16ZM423.32 273.02L406.37 252.46L404.06 254.37L421.01 274.93Z" fill="#fff" stroke="#0f62cc" stroke-width="0.5"/></g>
<text class="c" x="403.6" y="290.20" text-anchor="middle" textLength="54.7" lengthAdjust="spacingAndGlyphs">(d3) <tspan font-style="italic">Z</tspan>=350 mm</text>
</g>
<g>
<rect x="444.0" y="209.3" width="8" height="82.7" fill="url(#cb)"/>
<g filter="url(#tb)">
<text class="t" x="454.0" y="212.35" textLength="18.0" lengthAdjust="spacing">1.68×10<tspan dy="-1" font-size="3px">0</tspan></text>
<text class="t" x="454.0" y="220.45" textLength="18.0" lengthAdjust="spacing">1.51×10<tspan dy="-1" font-size="3px">0</tspan></text>
<text class="t" x="454.0" y="228.55" textLength="18.0" lengthAdjust="spacing">1.34×10<tspan dy="-1" font-size="3px">0</tspan></text>
<text class="t" x="454.0" y="236.65" textLength="18.0" lengthAdjust="spacing">1.18×10<tspan dy="-1" font-size="3px">0</tspan></text>
<text class="t" x="454.0" y="244.75" textLength="18.0" lengthAdjust="spacing">1.01×10<tspan dy="-1" font-size="3px">0</tspan></text>
<text class="t" x="454.0" y="252.85" textLength="19.9" lengthAdjust="spacing">8.40×10<tspan dy="-1" font-size="3px">−1</tspan></text>
<text class="t" x="454.0" y="260.95" textLength="19.9" lengthAdjust="spacing">6.72×10<tspan dy="-1" font-size="3px">−1</tspan></text>
<text class="t" x="454.0" y="269.05" textLength="19.9" lengthAdjust="spacing">5.04×10<tspan dy="-1" font-size="3px">−1</tspan></text>
<text class="t" x="454.0" y="277.15" textLength="19.9" lengthAdjust="spacing">3.36×10<tspan dy="-1" font-size="3px">−1</tspan></text>
<text class="t" x="454.0" y="285.25" textLength="19.9" lengthAdjust="spacing">1.68×10<tspan dy="-1" font-size="3px">−1</tspan></text>
<text class="t" x="454.0" y="293.35" textLength="18.0" lengthAdjust="spacing">0.00×10<tspan dy="-1" font-size="3px">0</tspan></text>
<text class="u" x="444.3" y="296.40">m/s</text>
</g>
<g clip-path="url(#k24)"><g filter="url(#cfd)"><rect x="478.85" y="209.40" width="68" height="68" fill="#0f0"/><circle cx="512.85" cy="243.40" r="29.5" fill="#ff0"/><path d="M488.00 254.46A27.2 27.2 0 0 1 488.00 232.34M515.69 216.35A27.2 27.2 0 0 1 534.86 227.41M534.86 259.39A27.2 27.2 0 0 1 515.69 270.45" fill="none" stroke="#f00" stroke-opacity="0.1" stroke-width="3.0"/><path d="M482.55 249.36L485.02 248.94L507.93 241.66L507.30 237.92L483.27 238.49L480.80 238.90ZM523.78 214.58L522.90 216.92L517.75 240.40L521.03 241.63L532.55 220.52L533.42 218.18ZM533.15 267.62L531.56 265.69L513.79 249.48L511.09 251.71L523.61 272.24L525.20 274.17Z" fill="#f00" fill-opacity="0.12"/><path d="M478.01 246.47L507.60 241.52L507.04 238.16L477.45 243.11ZM528.55 212.09L518.04 240.19L520.95 241.28L531.45 213.18ZM532.91 272.99L513.83 249.84L511.44 251.81L530.52 274.96Z" fill="#f00"/></g><path d="M478.00 246.42L507.64 241.46L507.10 238.20L477.46 243.16ZM528.60 212.11L518.07 240.25L520.88 241.30L531.41 213.16ZM532.87 273.02L513.76 249.84L511.44 251.74L530.56 274.93Z" fill="#fff" stroke="#0f62cc" stroke-width="0.5"/></g>
<text class="c" x="513.1" y="290.20" text-anchor="middle" textLength="54.7" lengthAdjust="spacingAndGlyphs">(e3) <tspan font-style="italic">Z</tspan>=350 mm</text>
</g>
<g>
<rect x="6.0" y="312.0" width="8" height="82.7" fill="url(#cb)"/>
<g filter="url(#tb)">
<text class="t" x="16.0" y="315.05" textLength="18.0" lengthAdjust="spacing">1.58×10<tspan dy="-1" font-size="3px">0</tspan></text>
<text class="t" x="16.0" y="323.15" textLength="18.0" lengthAdjust="spacing">1.42×10<tspan dy="-1" font-size="3px">0</tspan></text>
<text class="t" x="16.0" y="331.25" textLength="18.0" lengthAdjust="spacing">1.26×10<tspan dy="-1" font-size="3px">0</tspan></text>
<text class="t" x="16.0" y="339.35" textLength="18.0" lengthAdjust="spacing">1.11×10<tspan dy="-1" font-size="3px">0</tspan></text>
<text class="t" x="16.0" y="347.45" textLength="19.9" lengthAdjust="spacing">9.48×10<tspan dy="-1" font-size="3px">−1</tspan></text>
<text class="t" x="16.0" y="355.55" textLength="19.9" lengthAdjust="spacing">7.90×10<tspan dy="-1" font-size="3px">−1</tspan></text>
<text class="t" x="16.0" y="363.65" textLength="19.9" lengthAdjust="spacing">6.32×10<tspan dy="-1" font-size="3px">−1</tspan></text>
<text class="t" x="16.0" y="371.75" textLength="19.9" lengthAdjust="spacing">4.74×10<tspan dy="-1" font-size="3px">−1</tspan></text>
<text class="t" x="16.0" y="379.85" textLength="19.9" lengthAdjust="spacing">3.16×10<tspan dy="-1" font-size="3px">−1</tspan></text>
<text class="t" x="16.0" y="387.95" textLength="19.9" lengthAdjust="spacing">1.58×10<tspan dy="-1" font-size="3px">−1</tspan></text>
<text class="t" x="16.0" y="396.05" textLength="18.0" lengthAdjust="spacing">0.00×10<tspan dy="-1" font-size="3px">0</tspan></text>
<text class="u" x="6.3" y="399.10">m/s</text>
</g>
<g clip-path="url(#k30)"><g filter="url(#cfd)"><rect x="40.95" y="311.90" width="68" height="68" fill="#0f0"/><circle cx="74.95" cy="345.90" r="29.5" fill="#ff0"/><path d="M50.10 356.96A27.2 27.2 0 0 1 50.10 334.84M77.79 318.85A27.2 27.2 0 0 1 96.96 329.91M96.96 361.89A27.2 27.2 0 0 1 77.79 372.95" fill="none" stroke="#f00" stroke-opacity="0.1" stroke-width="3.0"/><path d="M44.61 350.90L47.06 350.43L57.79 345.89L57.07 342.16L45.42 341.98L42.97 342.46ZM86.73 317.51L85.91 319.87L84.47 331.43L87.78 332.57L93.76 322.58L94.58 320.21ZM94.44 370.63L92.80 368.75L83.51 361.72L80.87 364.01L86.54 374.19L88.18 376.08Z" fill="#f00" fill-opacity="0.12"/><path d="M40.18 349.11L57.46 345.76L56.81 342.42L39.54 345.78ZM90.49 314.57L84.76 331.22L87.69 332.22L93.42 315.58ZM95.11 375.36L83.56 362.08L81.22 364.11L92.77 377.39Z" fill="#f00"/></g><path d="M40.18 349.06L57.50 345.70L56.87 342.46L39.55 345.83ZM90.54 314.59L84.79 331.28L87.63 332.26L93.37 315.57ZM95.07 375.39L83.49 362.07L81.22 364.04L92.80 377.36Z" fill="#fff" stroke="#0f62cc" stroke-width="0.5"/></g>
<text class="c" x="75.2" y="392.90" text-anchor="middle" textLength="54.7" lengthAdjust="spacingAndGlyphs">(a4) <tspan font-style="italic">Z</tspan>=400 mm</text>
</g>
<g>
<rect x="115.6" y="312.0" width="8" height="82.7" fill="url(#cb)"/>
<g filter="url(#tb)">
<text class="t" x="125.6" y="315.05" textLength="18.0" lengthAdjust="spacing">1.61×10<tspan dy="-1" font-size="3px">0</tspan></text>
<text class="t" x="125.6" y="323.15" textLength="18.0" lengthAdjust="spacing">1.45×10<tspan dy="-1" font-size="3px">0</tspan></text>
<text class="t" x="125.6" y="331.25" textLength="18.0" lengthAdjust="spacing">1.29×10<tspan dy="-1" font-size="3px">0</tspan></text>
<text class="t" x="125.6" y="339.35" textLength="18.0" lengthAdjust="spacing">1.13×10<tspan dy="-1" font-size="3px">0</tspan></text>
<text class="t" x="125.6" y="347.45" textLength="19.9" lengthAdjust="spacing">9.66×10<tspan dy="-1" font-size="3px">−1</tspan></text>
<text class="t" x="125.6" y="355.55" textLength="19.9" lengthAdjust="spacing">8.05×10<tspan dy="-1" font-size="3px">−1</tspan></text>
<text class="t" x="125.6" y="363.65" textLength="19.9" lengthAdjust="spacing">6.44×10<tspan dy="-1" font-size="3px">−1</tspan></text>
<text class="t" x="125.6" y="371.75" textLength="19.9" lengthAdjust="spacing">4.83×10<tspan dy="-1" font-size="3px">−1</tspan></text>
<text class="t" x="125.6" y="379.85" textLength="19.9" lengthAdjust="spacing">3.22×10<tspan dy="-1" font-size="3px">−1</tspan></text>
<text class="t" x="125.6" y="387.95" textLength="19.9" lengthAdjust="spacing">1.61×10<tspan dy="-1" font-size="3px">−1</tspan></text>
<text class="t" x="125.6" y="396.05" textLength="18.0" lengthAdjust="spacing">0.00×10<tspan dy="-1" font-size="3px">0</tspan></text>
<text class="u" x="115.9" y="399.10">m/s</text>
</g>
<g clip-path="url(#k31)"><g filter="url(#cfd)"><rect x="150.50" y="311.90" width="68" height="68" fill="#0f0"/><circle cx="184.5" cy="345.90" r="29.5" fill="#ff0"/><path d="M159.65 356.96A27.2 27.2 0 0 1 159.65 334.84M187.34 318.85A27.2 27.2 0 0 1 206.51 329.91M206.51 361.89A27.2 27.2 0 0 1 187.34 372.95" fill="none" stroke="#f00" stroke-opacity="0.1" stroke-width="3.0"/><path d="M154.20 351.15L156.66 350.67L170.19 345.34L169.47 341.61L154.92 341.74L152.47 342.22ZM196.04 317.43L195.23 319.79L193.08 334.18L196.39 335.32L203.55 322.66L204.36 320.29ZM204.18 370.47L202.54 368.58L191.16 359.53L188.52 361.83L195.90 374.36L197.54 376.24Z" fill="#f00" fill-opacity="0.12"/><path d="M149.73 349.11L169.86 345.20L169.21 341.86L149.09 345.78ZM200.04 314.57L193.36 333.96L196.29 334.97L202.97 315.58ZM204.66 375.36L191.21 359.89L188.87 361.92L202.32 377.39Z" fill="#f00"/></g><path d="M149.73 349.06L169.90 345.14L169.27 341.90L149.10 345.83ZM200.09 314.59L193.39 334.02L196.23 335.00L202.92 315.57ZM204.62 375.39L191.14 359.88L188.87 361.85L202.35 377.36Z" fill="#fff" stroke="#0f62cc" stroke-width="0.5"/></g>
<text class="c" x="184.8" y="392.90" text-anchor="middle" textLength="54.7" lengthAdjust="spacingAndGlyphs">(b4) <tspan font-style="italic">Z</tspan>=400 mm</text>
</g>
<g>
<rect x="225.0" y="312.0" width="8" height="82.7" fill="url(#cb)"/>
<g filter="url(#tb)">
<text class="t" x="235.0" y="315.05" textLength="18.0" lengthAdjust="spacing">1.64×10<tspan dy="-1" font-size="3px">0</tspan></text>
<text class="t" x="235.0" y="323.15" textLength="18.0" lengthAdjust="spacing">1.48×10<tspan dy="-1" font-size="3px">0</tspan></text>
<text class="t" x="235.0" y="331.25" textLength="18.0" lengthAdjust="spacing">1.31×10<tspan dy="-1" font-size="3px">0</tspan></text>
<text class="t" x="235.0" y="339.35" textLength="18.0" lengthAdjust="spacing">1.15×10<tspan dy="-1" font-size="3px">0</tspan></text>
<text class="t" x="235.0" y="347.45" textLength="19.9" lengthAdjust="spacing">9.84×10<tspan dy="-1" font-size="3px">−1</tspan></text>
<text class="t" x="235.0" y="355.55" textLength="19.9" lengthAdjust="spacing">8.20×10<tspan dy="-1" font-size="3px">−1</tspan></text>
<text class="t" x="235.0" y="363.65" textLength="19.9" lengthAdjust="spacing">6.56×10<tspan dy="-1" font-size="3px">−1</tspan></text>
<text class="t" x="235.0" y="371.75" textLength="19.9" lengthAdjust="spacing">4.92×10<tspan dy="-1" font-size="3px">−1</tspan></text>
<text class="t" x="235.0" y="379.85" textLength="19.9" lengthAdjust="spacing">3.28×10<tspan dy="-1" font-size="3px">−1</tspan></text>
<text class="t" x="235.0" y="387.95" textLength="19.9" lengthAdjust="spacing">1.64×10<tspan dy="-1" font-size="3px">−1</tspan></text>
<text class="t" x="235.0" y="396.05" textLength="18.0" lengthAdjust="spacing">0.00×10<tspan dy="-1" font-size="3px">0</tspan></text>
<text class="u" x="225.3" y="399.10">m/s</text>
</g>
<g clip-path="url(#k32)"><g filter="url(#cfd)"><rect x="260.00" y="311.90" width="68" height="68" fill="#0f0"/><circle cx="294.0" cy="345.90" r="29.5" fill="#ff0"/><path d="M269.15 356.96A27.2 27.2 0 0 1 269.15 334.84M296.84 318.85A27.2 27.2 0 0 1 316.01 329.91M316.01 361.89A27.2 27.2 0 0 1 296.84 372.95" fill="none" stroke="#f00" stroke-opacity="0.1" stroke-width="3.0"/><path d="M263.75 351.39L266.21 350.92L282.73 344.75L282.01 341.02L264.37 341.49L261.92 341.97ZM305.30 317.35L304.49 319.71L301.57 337.11L304.88 338.25L313.28 322.74L314.10 320.38ZM313.87 370.31L312.23 368.42L298.63 357.19L295.99 359.49L305.21 374.52L306.85 376.41Z" fill="#f00" fill-opacity="0.12"/><path d="M259.23 349.11L282.40 344.61L281.75 341.27L258.59 345.78ZM309.54 314.57L301.85 336.89L304.79 337.90L312.47 315.58ZM314.16 375.36L298.67 357.55L296.33 359.58L311.82 377.39Z" fill="#f00"/></g><path d="M259.23 349.06L282.44 344.55L281.81 341.31L258.60 345.83ZM309.59 314.59L301.89 336.95L304.72 337.93L312.42 315.57ZM314.12 375.39L298.60 357.54L296.34 359.51L311.85 377.36Z" fill="#fff" stroke="#0f62cc" stroke-width="0.5"/></g>
<text class="c" x="294.3" y="392.90" text-anchor="middle" textLength="54.7" lengthAdjust="spacingAndGlyphs">(c4) <tspan font-style="italic">Z</tspan>=400 mm</text>
</g>
<g>
<rect x="334.4" y="312.0" width="8" height="82.7" fill="url(#cb)"/>
<g filter="url(#tb)">
<text class="t" x="344.4" y="315.05" textLength="18.0" lengthAdjust="spacing">1.66×10<tspan dy="-1" font-size="3px">0</tspan></text>
<text class="t" x="344.4" y="323.15" textLength="18.0" lengthAdjust="spacing">1.49×10<tspan dy="-1" font-size="3px">0</tspan></text>
<text class="t" x="344.4" y="331.25" textLength="18.0" lengthAdjust="spacing">1.33×10<tspan dy="-1" font-size="3px">0</tspan></text>
<text class="t" x="344.4" y="339.35" textLength="18.0" lengthAdjust="spacing">1.16×10<tspan dy="-1" font-size="3px">0</tspan></text>
<text class="t" x="344.4" y="347.45" textLength="19.9" lengthAdjust="spacing">9.96×10<tspan dy="-1" font-size="3px">−1</tspan></text>
<text class="t" x="344.4" y="355.55" textLength="19.9" lengthAdjust="spacing">8.30×10<tspan dy="-1" font-size="3px">−1</tspan></text>
<text class="t" x="344.4" y="363.65" textLength="19.9" lengthAdjust="spacing">6.64×10<tspan dy="-1" font-size="3px">−1</tspan></text>
<text class="t" x="344.4" y="371.75" textLength="19.9" lengthAdjust="spacing">4.98×10<tspan dy="-1" font-size="3px">−1</tspan></text>
<text class="t" x="344.4" y="379.85" textLength="19.9" lengthAdjust="spacing">3.32×10<tspan dy="-1" font-size="3px">−1</tspan></text>
<text class="t" x="344.4" y="387.95" textLength="19.9" lengthAdjust="spacing">1.66×10<tspan dy="-1" font-size="3px">−1</tspan></text>
<text class="t" x="344.4" y="396.05" textLength="18.0" lengthAdjust="spacing">0.00×10<tspan dy="-1" font-size="3px">0</tspan></text>
<text class="u" x="334.7" y="399.10">m/s</text>
</g>
<g clip-path="url(#k33)"><g filter="url(#cfd)"><rect x="369.30" y="311.90" width="68" height="68" fill="#0f0"/><circle cx="403.3" cy="345.90" r="29.5" fill="#ff0"/><path d="M378.45 356.96A27.2 27.2 0 0 1 378.45 334.84M406.14 318.85A27.2 27.2 0 0 1 425.31 329.91M425.31 361.89A27.2 27.2 0 0 1 406.14 372.95" fill="none" stroke="#f00" stroke-opacity="0.1" stroke-width="3.0"/><path d="M373.10 351.64L375.55 351.16L394.98 344.18L394.25 340.45L373.63 341.25L371.17 341.72ZM414.37 317.27L413.55 319.63L409.89 339.94L413.20 341.08L422.82 322.82L423.63 320.46ZM423.36 370.14L421.72 368.26L405.96 354.93L403.32 357.22L414.32 374.69L415.96 376.57Z" fill="#f00" fill-opacity="0.12"/><path d="M368.53 349.11L394.65 344.04L394.00 340.70L367.89 345.78ZM418.84 314.57L410.18 339.73L413.11 340.73L421.77 315.58ZM423.46 375.36L406.00 355.28L403.67 357.32L421.12 377.39Z" fill="#f00"/></g><path d="M368.53 349.06L394.69 343.98L394.06 340.74L367.90 345.83ZM418.89 314.59L410.21 339.79L413.05 340.77L421.72 315.57ZM423.42 375.39L405.93 355.28L403.67 357.25L421.15 377.36Z" fill="#fff" stroke="#0f62cc" stroke-width="0.5"/></g>
<text class="c" x="403.6" y="392.90" text-anchor="middle" textLength="54.7" lengthAdjust="spacingAndGlyphs">(d4) <tspan font-style="italic">Z</tspan>=400 mm</text>
</g>
<g>
<rect x="444.0" y="312.0" width="8" height="82.7" fill="url(#cb)"/>
<g filter="url(#tb)">
<text class="t" x="454.0" y="315.05" textLength="18.0" lengthAdjust="spacing">1.68×10<tspan dy="-1" font-size="3px">0</tspan></text>
<text class="t" x="454.0" y="323.15" textLength="18.0" lengthAdjust="spacing">1.51×10<tspan dy="-1" font-size="3px">0</tspan></text>
<text class="t" x="454.0" y="331.25" textLength="18.0" lengthAdjust="spacing">1.34×10<tspan dy="-1" font-size="3px">0</tspan></text>
<text class="t" x="454.0" y="339.35" textLength="18.0" lengthAdjust="spacing">1.18×10<tspan dy="-1" font-size="3px">0</tspan></text>
<text class="t" x="454.0" y="347.45" textLength="18.0" lengthAdjust="spacing">1.01×10<tspan dy="-1" font-size="3px">0</tspan></text>
<text class="t" x="454.0" y="355.55" textLength="19.9" lengthAdjust="spacing">8.40×10<tspan dy="-1" font-size="3px">−1</tspan></text>
<text class="t" x="454.0" y="363.65" textLength="19.9" lengthAdjust="spacing">6.72×10<tspan dy="-1" font-size="3px">−1</tspan></text>
<text class="t" x="454.0" y="371.75" textLength="19.9" lengthAdjust="spacing">5.04×10<tspan dy="-1" font-size="3px">−1</tspan></text>
<text class="t" x="454.0" y="379.85" textLength="19.9" lengthAdjust="spacing">3.36×10<tspan dy="-1" font-size="3px">−1</tspan></text>
<text class="t" x="454.0" y="387.95" textLength="19.9" lengthAdjust="spacing">1.68×10<tspan dy="-1" font-size="3px">−1</tspan></text>
<text class="t" x="454.0" y="396.05" textLength="18.0" lengthAdjust="spacing">0.00×10<tspan dy="-1" font-size="3px">0</tspan></text>
<text class="u" x="444.3" y="399.10">m/s</text>
</g>
<g clip-path="url(#k34)"><g filter="url(#cfd)"><rect x="478.85" y="311.90" width="68" height="68" fill="#0f0"/><circle cx="512.85" cy="345.90" r="29.5" fill="#ff0"/><path d="M488.00 356.96A27.2 27.2 0 0 1 488.00 334.84M515.69 318.85A27.2 27.2 0 0 1 534.86 329.91M534.86 361.89A27.2 27.2 0 0 1 515.69 372.95" fill="none" stroke="#f00" stroke-opacity="0.1" stroke-width="3.0"/><path d="M482.70 351.88L485.15 351.41L507.87 343.53L507.14 339.80L483.13 341.00L480.68 341.48ZM523.68 317.18L522.87 319.55L518.33 343.16L521.64 344.30L532.61 322.90L533.42 320.54ZM533.10 369.98L531.46 368.09L513.28 352.36L510.64 354.66L523.69 374.85L525.33 376.74Z" fill="#f00" fill-opacity="0.12"/><path d="M478.08 349.11L507.53 343.39L506.88 340.05L477.44 345.78ZM528.39 314.57L518.62 342.94L521.55 343.95L531.32 315.58ZM533.01 375.36L513.32 352.72L510.98 354.75L530.67 377.39Z" fill="#f00"/></g><path d="M478.08 349.06L507.57 343.33L506.94 340.09L477.45 345.83ZM528.44 314.59L518.65 343.00L521.49 343.98L531.27 315.57ZM532.97 375.39L513.25 352.71L510.99 354.68L530.70 377.36Z" fill="#fff" stroke="#0f62cc" stroke-width="0.5"/></g>
<text class="c" x="513.1" y="392.90" text-anchor="middle" textLength="54.7" lengthAdjust="spacingAndGlyphs">(e4) <tspan font-style="italic">Z</tspan>=400 mm</text>
</g>
</svg></body></html>
